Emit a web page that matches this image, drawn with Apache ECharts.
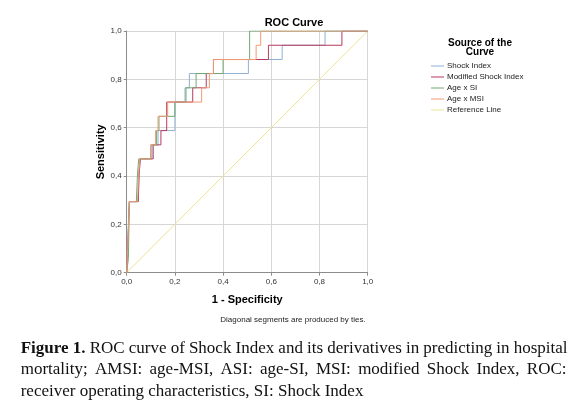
<!DOCTYPE html>
<html><head><meta charset="utf-8">
<script src="https://cdn.jsdelivr.net/npm/echarts@6/dist/echarts.min.js"></script>
<style>html,body{margin:0;padding:0;background:#fff}#c{width:588px;height:413px}</style>
</head><body><div id="c"></div>
<script>
// ---- data ----
const seriesNames = ['Shock Index', 'Modified Shock Index', 'Age x SI', 'Age x MSI', 'Reference Line'];
const tickValues = [0, 0.2, 0.4, 0.6, 0.8, 1.0];

const siFpr  = [0, 0.008, 0.011, 0.011, 0.048, 0.048, 0.05, 0.055, 0.105, 0.105, 0.13, 0.13, 0.2, 0.2, 0.242, 0.242, 0.26, 0.26, 0.505, 0.505, 0.645, 0.645, 0.823, 0.823, 1];
const siTpr  = [0, 0.235, 0.235, 0.294, 0.294, 0.353, 0.412, 0.471, 0.471, 0.529, 0.529, 0.588, 0.588, 0.706, 0.706, 0.765, 0.765, 0.824, 0.824, 0.882, 0.882, 0.941, 0.941, 1, 1];

const msiFpr = [0, 0.005, 0.011, 0.048, 0.052, 0.057, 0.11, 0.11, 0.142, 0.142, 0.166, 0.166, 0.274, 0.274, 0.33, 0.33, 0.36, 0.36, 0.588, 0.588, 0.893, 0.893, 1];
const msiTpr = [0, 0.118, 0.294, 0.294, 0.412, 0.471, 0.471, 0.529, 0.529, 0.588, 0.588, 0.706, 0.706, 0.765, 0.765, 0.824, 0.824, 0.882, 0.882, 0.941, 0.941, 1, 1];

const asiFpr = [0, 0.007, 0.011, 0.04, 0.045, 0.05, 0.10, 0.10, 0.124, 0.124, 0.134, 0.134, 0.2, 0.2, 0.246, 0.246, 0.288, 0.288, 0.40, 0.40, 0.51, 0.51, 1];
const asiTpr = [0, 0.059, 0.294, 0.294, 0.412, 0.471, 0.471, 0.529, 0.529, 0.588, 0.588, 0.647, 0.647, 0.706, 0.706, 0.765, 0.765, 0.824, 0.824, 0.882, 0.882, 1, 1];

const amsiFpr = [0, 0.007, 0.011, 0.045, 0.05, 0.055, 0.10, 0.10, 0.12, 0.12, 0.13, 0.13, 0.17, 0.17, 0.311, 0.311, 0.343, 0.343, 0.36, 0.36, 0.537, 0.537, 0.556, 0.556, 1];
const amsiTpr = [0, 0.176, 0.294, 0.294, 0.412, 0.471, 0.471, 0.529, 0.529, 0.588, 0.588, 0.647, 0.647, 0.706, 0.706, 0.765, 0.765, 0.824, 0.824, 0.882, 0.882, 0.941, 0.941, 1, 1];

const refFpr = [0, 1];
const refTpr = [0, 1];

const colors = ['#8fb1d6', '#b8395e', '#72a872', '#ee9a74', '#ebe592'];

const captionLine1 = ['Figure 1.', 'ROC', 'curve', 'of', 'Shock', 'Index', 'and', 'its', 'derivatives', 'in', 'predicting', 'in', 'hospital'];
const captionLine2 = ['mortality;', 'AMSI:', 'age-MSI,', 'ASI:', 'age-SI,', 'MSI:', 'modified', 'Shock', 'Index,', 'ROC:'];
const captionLine3 = 'receiver operating characteristics, SI: Shock Index';

// ---- build ----
const zip = (a, b) => a.map((v, i) => [v, b[i]]);
const pairs = [zip(siFpr, siTpr), zip(msiFpr, msiTpr), zip(asiFpr, asiTpr), zip(amsiFpr, amsiTpr), zip(refFpr, refTpr)];
const fmt = v => v.toFixed(1).replace('.', ',');

const FONT_SERIF = '"Liberation Serif", "Times New Roman", serif';
const FONT_SANS = '"Liberation Sans", Arial, sans-serif';

const mctx = document.createElement('canvas').getContext('2d');
function measure(txt, bold) {
  mctx.font = (bold ? 'bold ' : '') + '17px ' + FONT_SERIF;
  return mctx.measureText(txt).width;
}
function justified(words, x0, x1, y, boldFirst) {
  const widths = words.map((w, i) => measure(w, boldFirst && i === 0));
  const total = widths.reduce((a, b) => a + b, 0);
  const gap = (x1 - x0 - total) / (words.length - 1);
  const els = [];
  let x = x0;
  words.forEach((w, i) => {
    els.push({ type: 'text', x: x, y: y, silent: true,
      style: { text: w, font: (boldFirst && i === 0 ? 'bold ' : '') + '17px ' + FONT_SERIF, fill: '#111', textVerticalAlign: 'middle' } });
    x += widths[i] + gap;
  });
  return els;
}

const graphics = [
  { type: 'text', x: 294, y: 23, style: { text: 'ROC Curve', font: 'bold 11px ' + FONT_SANS, fill: '#000', textAlign: 'center', textVerticalAlign: 'middle' } },
  { type: 'text', x: 480, y: 43, style: { text: 'Source of the', font: 'bold 10px ' + FONT_SANS, fill: '#000', textAlign: 'center', textVerticalAlign: 'middle' } },
  { type: 'text', x: 480, y: 52.5, style: { text: 'Curve', font: 'bold 10px ' + FONT_SANS, fill: '#000', textAlign: 'center', textVerticalAlign: 'middle' } },
  { type: 'text', x: 293, y: 319.5, style: { text: 'Diagonal segments are produced by ties.', font: '8px ' + FONT_SANS, fill: '#222', textAlign: 'center', textVerticalAlign: 'middle' } },
  ...justified(captionLine1, 20.7, 567.5, 348.5, true),
  ...justified(captionLine2, 20.7, 566.5, 370, false),
  { type: 'text', x: 20.7, y: 391.5, style: { text: captionLine3, font: '17px ' + FONT_SERIF, fill: '#111', textVerticalAlign: 'middle' } }
];

const axisCommon = {
  type: 'value', min: 0, max: 1, interval: 0.2,
  axisLine: { show: true, lineStyle: { color: '#8c8c8c', width: 1 } },
  axisTick: { show: true, length: 3, lineStyle: { color: '#8c8c8c' } },
  axisLabel: { formatter: fmt, fontSize: 8, color: '#333', fontFamily: FONT_SANS, margin: 5 },
  splitLine: { show: true, lineStyle: { color: '#d6d6d6', width: 1 } },
  nameLocation: 'middle',
  nameTextStyle: { fontSize: 11, fontWeight: 'bold', color: '#000', fontFamily: FONT_SANS }
};

const chart = echarts.init(document.getElementById('c'), null, { renderer: 'canvas' });
chart.setOption({
  animation: false,
  backgroundColor: '#fff',
  grid: { left: 126.7, right: 220.3, top: 31, bottom: 140.3, containLabel: false },
  xAxis: Object.assign({}, axisCommon, { name: '1 - Specificity', nameGap: 22 }),
  yAxis: Object.assign({}, axisCommon, { name: 'Sensitivity', nameGap: 20, nameRotate: 90 }),
  legend: {
    orient: 'vertical', left: 431, top: 61.5, padding: 0, icon: 'rect', itemWidth: 13, itemHeight: 1, itemGap: 2,
    textStyle: { fontSize: 8, lineHeight: 9, color: '#222', fontFamily: FONT_SANS, padding: [0, 0, 0, -2] },
    data: seriesNames
  },
  graphic: graphics,
  series: seriesNames.map((n, i) => ({
    name: n, type: 'line', data: pairs[i], showSymbol: false, symbol: 'none',
    lineStyle: { color: colors[i], width: 1 }, itemStyle: { color: colors[i] },
    z: i === 4 ? 1 : 2 + i
  }))
});
</script></body></html>
